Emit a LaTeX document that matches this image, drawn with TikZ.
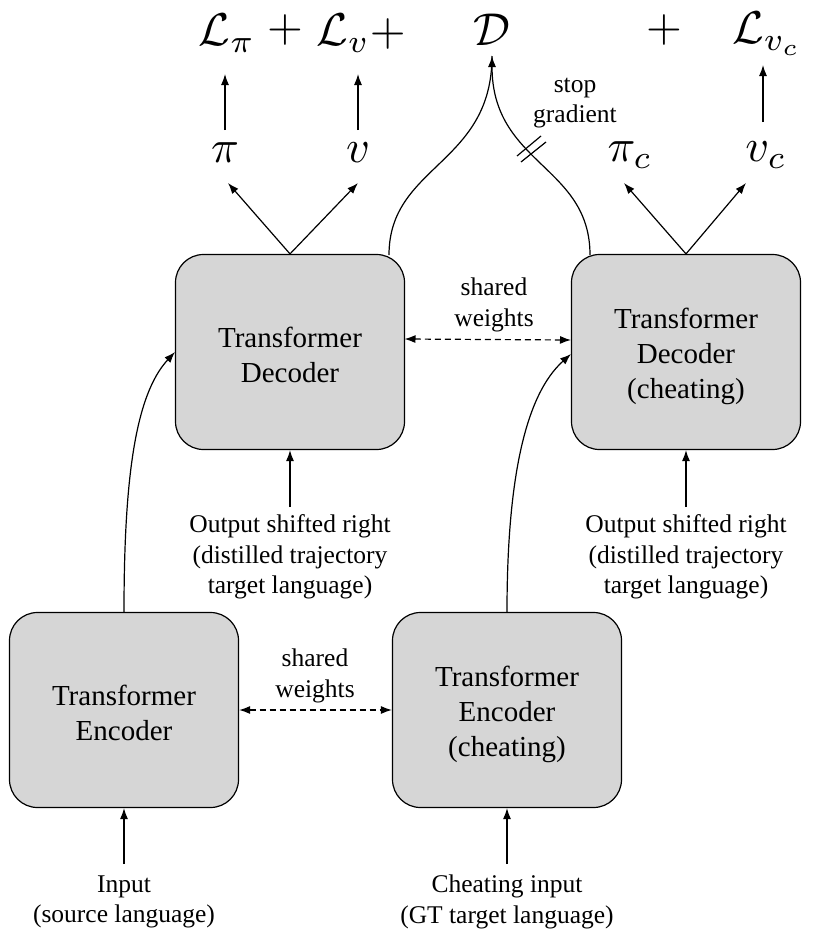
\documentclass[tikz,border=0pt]{standalone}
\usepackage{amsmath}
\usepackage{fontspec}
\setmainfont{Liberation Serif}
\usetikzlibrary{positioning,arrows.meta}

\newcommand{\gaptwo}{\rule{0pt}{26pt}}
\newcommand{\gapthree}{\rule{0pt}{30pt}}

\tikzset{
  block/.style={draw,line width=1.2pt,fill=black!16,rounded corners=28pt,minimum width=229pt,minimum height=195pt,
    align=center,font=\fontsize{29}{35}\selectfont,inner sep=0pt},
  caption/.style={align=center,font=\fontsize{25.5}{30.5}\selectfont,inner sep=0pt},
  symb/.style={scale=4.6,inner sep=0pt},
  arr/.style={-{Latex[length=11pt,width=8pt]},line width=1.2pt},
  shared/.style={{Latex[length=11pt,width=8pt]}-{Latex[length=11pt,width=8pt]},dash pattern=on 6pt off 4pt,line width=1.2pt},
}

\begin{document}
\begin{tikzpicture}[x=1pt,y=-1pt]

  \useasboundingbox (0,0) rectangle (818,943);

  % Nodes

  \node[block] (enc) at (124,710) {\gaptwo Transformer\\Encoder};
  \node[block] (enc_c) at (507,710) {\gapthree Transformer\\Encoder\\(cheating)};
  \node[block] (dec) at (290,352) {\gaptwo Transformer\\Decoder};
  \node[block] (dec_c) at (686,352) {\gapthree Transformer\\Decoder\\(cheating)};

  \node[caption] (in) at (124,902) {Input\\(source language)};
  \node[caption] (in_c) at (507,902) {Cheating input\\(GT target language)};
  \node[caption] (out) at (290,557) {Output shifted right\\(distilled trajectory\\target language)};
  \node[caption] (out_c) at (686,557) {Output shifted right\\(distilled trajectory\\target language)};

  \node[caption] (sw_enc) at (315,676) {shared\\weights};
  \node[caption] (sw_dec) at (494,305) {shared\\weights};
  \node[caption] (stop) at (575,103) {stop\\gradient};

  \node[symb] (pi) at (225,153) {$\pi$};
  \node[symb] (v) at (358,153) {$v$};
  \node[symb] (pi_c) at (630,155) {$\pi_c$};
  \node[symb] (v_c) at (766,155) {$v_c$};

  \node[symb] (l_pi) at (227,33) {$\mathcal{L}_\pi$};
  \node[symb] (plus_a) at (285,30) {$+$};
  \node[symb] (l_v) at (361,33) {$\mathcal{L}_v{+}$};
  \node[symb] (dist) at (492,30) {$\mathcal{D}$};
  \node[symb] (plus_b) at (664,30) {$+$};
  \node[symb] (l_vc) at (767,34) {$\mathcal{L}_{v_c}$};

  % Free ends

  \coordinate (dec_l) at (389,255);
  \coordinate (dec_r) at (590,255);
  \coordinate (top) at (492,56);
  \coordinate (enc_out) at (124,612);
  \coordinate (enc_c_out) at (507,612);
  \coordinate (dec_in) at (175,352);
  \coordinate (dec_c_in) at (571,354);
  \coordinate (dec_e) at (404.5,339);
  \coordinate (dec_c_w) at (571,340);
  \coordinate (cut_a1) at (517,156);
  \coordinate (cut_a2) at (541,136);
  \coordinate (cut_b1) at (521,162);
  \coordinate (cut_b2) at (546,142);

  % Edges

  \draw[arr] (124,864) -- (enc.south);
  \draw[arr] (507,864) -- (enc_c.south);
  \draw[arr] (290,507) -- (dec.south);
  \draw[arr] (686,507) -- (dec_c.south);

  \draw[shared] (enc.east) -- (enc_c.west);
  \draw[shared] (dec_e) -- (dec_c_w);

  \draw[arr] (enc_out) .. controls (124,480) and (135,395) .. (dec_in);
  \draw[arr] (enc_c_out) .. controls (507,480) and (525,395) .. (dec_c_in);

  \draw[arr] (dec.north) -- (228,183);
  \draw[arr] (dec.north) -- (358,183);
  \draw[arr] (dec_c.north) -- (624,183);
  \draw[arr] (dec_c.north) -- (746,183);

  \draw[arr] (225,130) -- (225,74);
  \draw[arr] (358,130) -- (358,74);
  \draw[arr] (763,122) -- (763,65);

  \draw[line width=1.2pt] (dec_l) .. controls (389,165) and (492,165) .. (top);
  \draw[arr] (dec_r) .. controls (590,165) and (492,165) .. (top);
  \draw[line width=1.2pt] (cut_a1) -- (cut_a2);
  \draw[line width=1.2pt] (cut_b1) -- (cut_b2);

\end{tikzpicture}
\end{document}
